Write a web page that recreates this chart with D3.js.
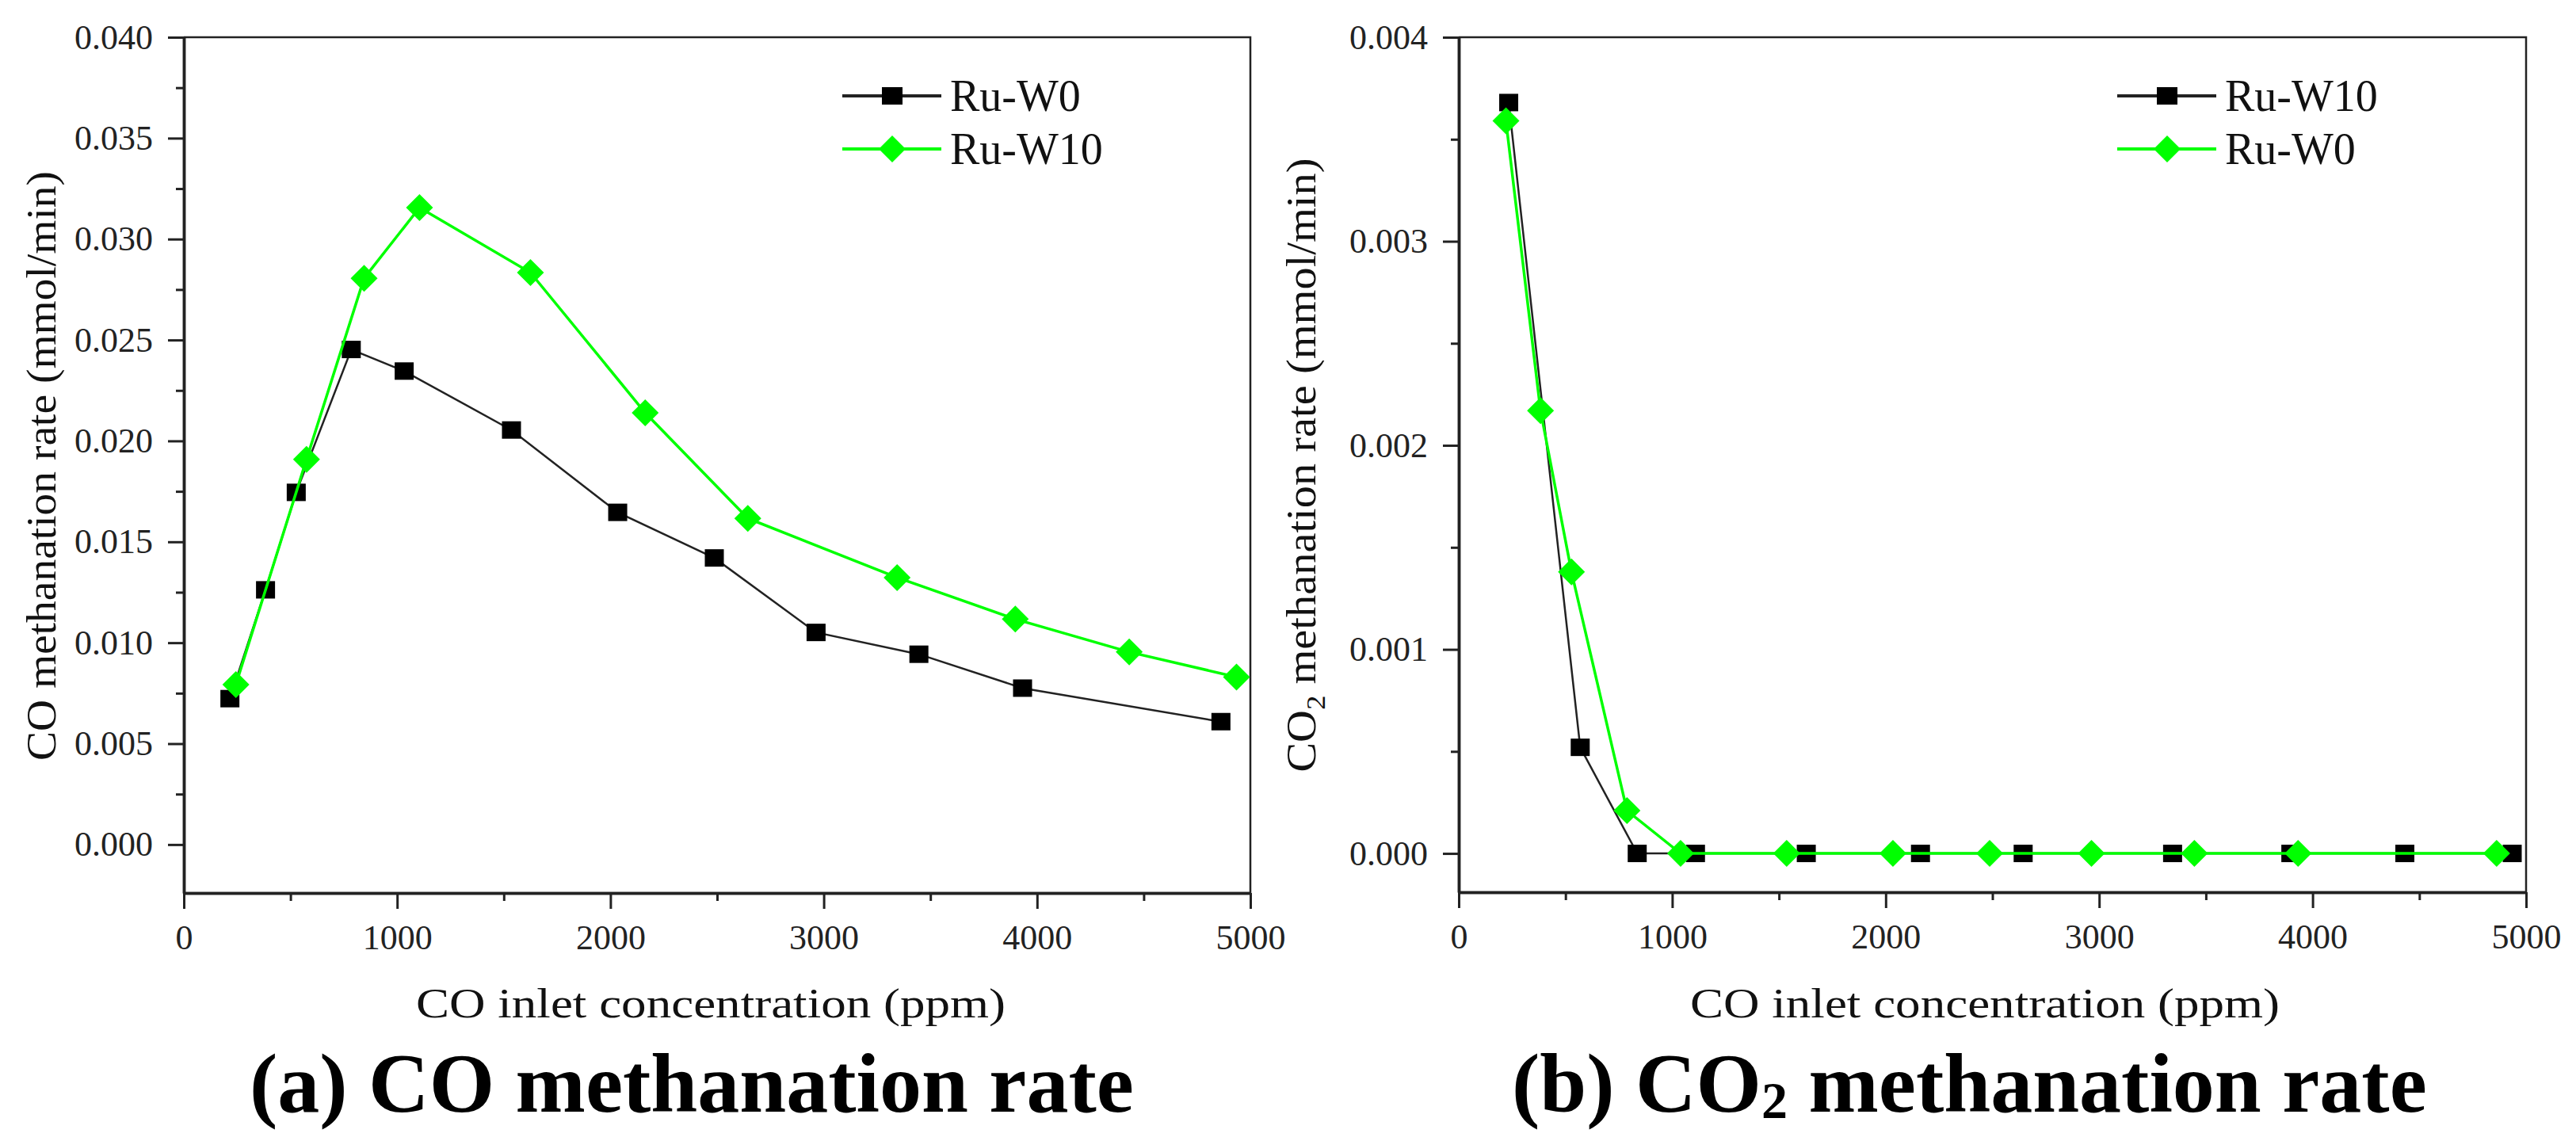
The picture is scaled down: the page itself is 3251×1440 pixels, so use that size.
<!DOCTYPE html>
<html>
<head>
<meta charset="utf-8">
<script src="https://cdn.jsdelivr.net/npm/d3@7/dist/d3.min.js"></script>
<style>
    body { margin: 0; background: #fff; }
    svg { display: block; }
    text { font-family: "Liberation Serif", "Times New Roman", serif; fill: #111; }
</style>
</head>
<body>
<svg id="chart" width="3251" height="1440"></svg>
<script>
// ---- panel (a) CO methanation rate ----
var coW0Ppm = [216, 383, 527, 785, 1033, 1536, 2034, 2487, 2964, 3446, 3932, 4862];
var coW0Rate = [0.00723, 0.01262, 0.01745, 0.02453, 0.02346, 0.02054, 0.01646, 0.01420, 0.01051, 0.00943, 0.00775, 0.00609];
var coW10Ppm = [244, 575, 845, 1105, 1625, 2163, 2644, 3344, 3898, 4432, 4935];
var coW10Rate = [0.00793, 0.01908, 0.02806, 0.03156, 0.02834, 0.02139, 0.01616, 0.01323, 0.01117, 0.00954, 0.00830];

// ---- panel (b) CO2 methanation rate ----
var co2W10Ppm = [234, 569, 836, 1109, 1628, 2163, 2644, 3344, 3898, 4432, 4935];
var co2W10Rate = [0.00368, 0.00052, 0, 0, 0, 0, 0, 0, 0, 0, 0];
var co2W0Ppm = [221, 383, 528, 788, 1039, 1536, 2034, 2487, 2964, 3446, 3932, 4862];
var co2W0Rate = [0.00359, 0.00217, 0.00138, 0.00021, 0, 0, 0, 0, 0, 0, 0, 0];

// ---- axis ticks ----
var xTicks = [0, 1000, 2000, 3000, 4000, 5000];
var xMinorTicks = [500, 1500, 2500, 3500, 4500];
var yTicksA = [0, 0.005, 0.010, 0.015, 0.020, 0.025, 0.030, 0.035, 0.040];
var yMinorTicksA = [0.0025, 0.0075, 0.0125, 0.0175, 0.0225, 0.0275, 0.0325, 0.0375];
var yTicksB = [0, 0.001, 0.002, 0.003, 0.004];
var yMinorTicksB = [0.0005, 0.0015, 0.0025, 0.0035];

var GREEN = "#00ff00";
var SERIF = "Liberation Serif, Times New Roman, serif";
var svg = d3.select("#chart");

function zip(xs, ys)
{
    return xs.map(function (x, i) { return { x: x, y: ys[i] }; });
}

function diamondPath(cx, cy)
{
    var w = 17, h = 17;
    return "M" + cx + "," + (cy - h) + "L" + (cx + w) + "," + cy + "L" + cx + "," + (cy + h) + "L" + (cx - w) + "," + cy + "Z";
}

function drawPanel(p)
{
    var x = d3.scaleLinear().domain([0, 5000]).range([p.left, p.right]);
    var y = d3.scaleLinear().domain(p.yDomain).range([p.bottom, p.top]);
    var g = svg.append("g");

    // frame top / right (thin)
    g.append("path")
        .attr("d", "M" + p.left + "," + p.top + "H" + p.right + "V" + p.bottom)
        .attr("fill", "none").attr("stroke", "#222").attr("stroke-width", 2.5);

    // minor ticks
    g.append("g").attr("transform", "translate(0," + p.bottom + ")")
        .call(d3.axisBottom(x).tickValues(xMinorTicks).tickSize(10).tickSizeOuter(0).tickFormat(""));
    g.append("g").attr("transform", "translate(" + p.left + ",0)")
        .call(d3.axisLeft(y).tickValues(p.yMinor).tickSize(10).tickSizeOuter(0).tickFormat(""));

    // major axes
    g.append("g").attr("transform", "translate(0," + p.bottom + ")")
        .call(d3.axisBottom(x).tickValues(xTicks).tickSize(20).tickSizeOuter(0).tickPadding(20).tickFormat(d3.format("d")))
        .attr("font-family", SERIF).attr("font-size", 44);
    g.append("g").attr("transform", "translate(" + p.left + ",0)")
        .call(d3.axisLeft(y).tickValues(p.yTicks).tickSize(20).tickSizeOuter(0).tickPadding(19).tickFormat(d3.format(".3f")))
        .attr("font-family", SERIF).attr("font-size", 44);

    g.selectAll(".domain").attr("stroke", "#222").attr("stroke-width", 3.5);
    g.selectAll(".tick line").attr("stroke", "#222").attr("stroke-width", 3);
    g.selectAll(".tick text").attr("fill", "#222").style("fill", "#222");

    var line = d3.line()
        .x(function (d) { return x(d.x); })
        .y(function (d) { return y(d.y); });

    // black series (squares) first, green (diamonds) on top
    var blackData = zip(p.blackX, p.blackY);
    var greenData = zip(p.greenX, p.greenY);

    g.append("path").datum(blackData)
        .attr("d", line).attr("fill", "none").attr("stroke", "#222").attr("stroke-width", 2.5);
    g.selectAll("rect.sq").data(blackData).enter().append("rect")
        .attr("class", "sq")
        .attr("x", function (d) { return x(d.x) - 12; })
        .attr("y", function (d) { return y(d.y) - 11; })
        .attr("width", 24).attr("height", 22)
        .attr("fill", "#000");

    g.append("path").datum(greenData)
        .attr("d", line).attr("fill", "none").attr("stroke", GREEN).attr("stroke-width", 3.5);
    g.selectAll("path.dm").data(greenData).enter().append("path")
        .attr("class", "dm")
        .attr("d", function (d) { return diamondPath(x(d.x), y(d.y)); })
        .attr("fill", GREEN);

    // legend
    var lg = g.append("g");
    var rows = [
        { name: p.blackName, color: "#222", marker: "sq", cy: 121 },
        { name: p.greenName, color: GREEN, marker: "dm", cy: 188 }
    ];
    rows.forEach(function (r)
    {
        lg.append("line")
            .attr("x1", p.legendX).attr("x2", p.legendX + 125)
            .attr("y1", r.cy).attr("y2", r.cy)
            .attr("stroke", r.color).attr("stroke-width", 4);
        var mx = p.legendX + 63;
        if (r.marker === "sq")
        {
            lg.append("rect").attr("x", mx - 13).attr("y", r.cy - 11).attr("width", 26).attr("height", 22).attr("fill", "#000");
        }
        else
        {
            lg.append("path").attr("d", diamondPath(mx, r.cy)).attr("fill", GREEN);
        }
        lg.append("text")
            .attr("x", p.legendX + 136).attr("y", r.cy + 19)
            .attr("font-size", 56)
            .text(r.name);
    });

    // x axis title
    g.append("text")
        .attr("x", p.xTitleX).attr("y", 1284)
        .attr("text-anchor", "middle")
        .attr("font-size", 52)
        .attr("textLength", 744).attr("lengthAdjust", "spacingAndGlyphs")
        .text("CO inlet concentration (ppm)");

    // y axis title
    var yt = g.append("text")
        .attr("transform", "translate(" + p.yTitleX + "," + p.yTitleY + ") rotate(-90)")
        .attr("text-anchor", "middle")
        .attr("font-size", 52)
        .attr("textLength", p.yTitleLen).attr("lengthAdjust", "spacingAndGlyphs");
    yt.append("tspan").text(p.yTitleHead);
    if (p.sub)
    {
        yt.append("tspan").attr("font-size", 34).attr("dy", 12).text(p.sub);
        yt.append("tspan").attr("dy", -12).text(p.yTitleTail);
    }

    // panel caption
    var cap = svg.append("text")
        .attr("x", p.capX).attr("y", 1403)
        .attr("font-size", 106).attr("font-weight", "bold")
        .style("fill", "#000");
    cap.append("tspan").text(p.capHead);
    if (p.sub)
    {
        cap.append("tspan").attr("font-size", 66).attr("dy", 8).text(p.sub);
        cap.append("tspan").attr("dy", -8).text(p.capTail);
    }
}

drawPanel({
    left: 232, right: 1578, top: 47, bottom: 1127,
    yDomain: [-0.0024, 0.04],
    yTicks: yTicksA, yMinor: yMinorTicksA,
    blackX: coW0Ppm, blackY: coW0Rate, blackName: "Ru-W0",
    greenX: coW10Ppm, greenY: coW10Rate, greenName: "Ru-W10",
    legendX: 1063,
    xTitleX: 897,
    yTitleX: 70, yTitleY: 588, yTitleLen: 744,
    yTitleHead: "CO methanation rate (mmol/min)", yTitleTail: "", sub: null,
    capX: 315, capHead: "(a) CO methanation rate", capTail: ""
});

drawPanel({
    left: 1841, right: 3188, top: 47, bottom: 1126,
    yDomain: [-0.00019, 0.004],
    yTicks: yTicksB, yMinor: yMinorTicksB,
    blackX: co2W10Ppm, blackY: co2W10Rate, blackName: "Ru-W10",
    greenX: co2W0Ppm, greenY: co2W0Rate, greenName: "Ru-W0",
    legendX: 2672,
    xTitleX: 2505,
    yTitleX: 1660, yTitleY: 587, yTitleLen: 775,
    yTitleHead: "CO", yTitleTail: " methanation rate (mmol/min)", sub: "2",
    capX: 1908, capHead: "(b) CO", capTail: " methanation rate"
});
</script>
</body>
</html>
